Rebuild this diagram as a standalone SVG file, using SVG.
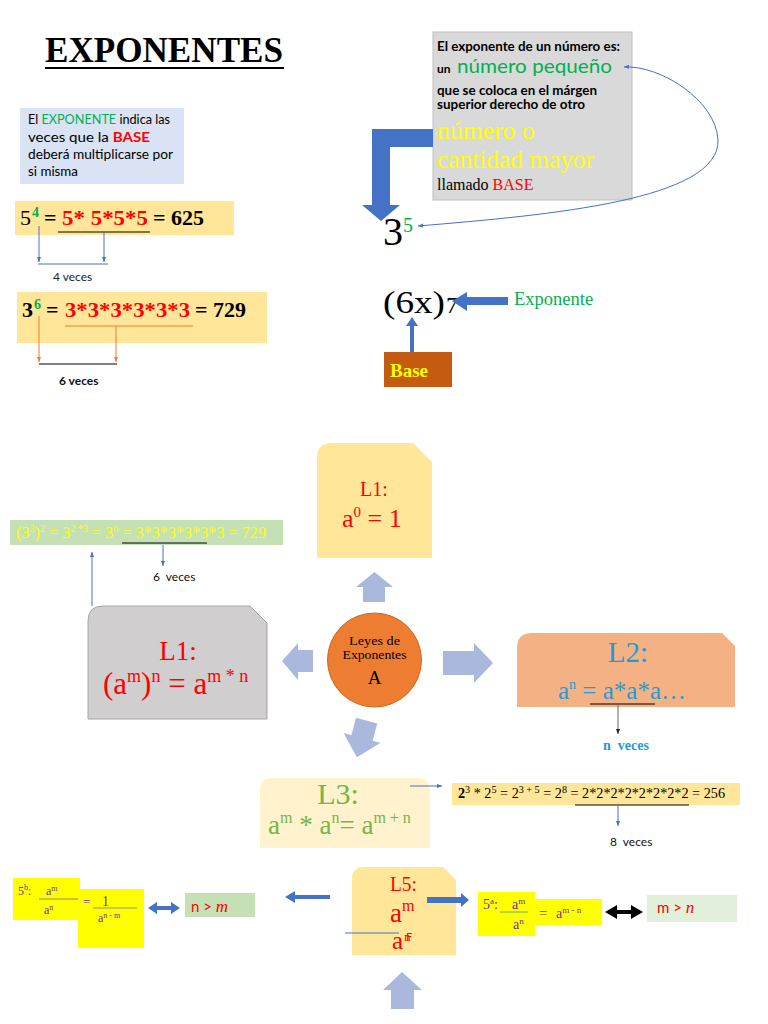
<svg xmlns="http://www.w3.org/2000/svg" width="768" height="1024" viewBox="0 0 768 1024">
<defs>
<style>
.se{font-family:"Liberation Serif","Times New Roman",serif}
.sa{font-family:Lato,"Liberation Sans",Arial,sans-serif}
.b{font-weight:bold}
.red{fill:#ff0000}
.grn{fill:#00b050}
.yel{fill:#ffff00}
.pur{fill:#7030a0}
.blu{fill:#1f9bd7}
.lg{fill:#74b54c}
.ba{fill:#aab8dd}
.tb{fill:none;stroke:#4472c4;stroke-width:1}
.to{fill:none;stroke:#ed7d31;stroke-width:1}
.tk{fill:none;stroke:#000;stroke-width:1}
.solid{fill:#4472c4}
</style>
<marker id="mb" viewBox="0 0 10 10" refX="10" refY="5" markerWidth="5" markerHeight="5" markerUnits="userSpaceOnUse" orient="auto-start-reverse"><path d="M0,1 L10,5 L0,9 z" fill="#4472c4"/></marker>
<marker id="mo" viewBox="0 0 10 10" refX="10" refY="5" markerWidth="5" markerHeight="5" markerUnits="userSpaceOnUse" orient="auto-start-reverse"><path d="M0,1 L10,5 L0,9 z" fill="#ed7d31"/></marker>
<marker id="mk" viewBox="0 0 10 10" refX="10" refY="5" markerWidth="5" markerHeight="5" markerUnits="userSpaceOnUse" orient="auto-start-reverse"><path d="M0,1 L10,5 L0,9 z" fill="#222"/></marker>
</defs>
<rect width="768" height="1024" fill="#fff"/>

<g id="title">
<text class="se b" font-size="36" x="45" y="62" textLength="238" lengthAdjust="spacingAndGlyphs">EXPONENTES</text>
<rect x="45" y="67" width="239" height="2" fill="#000"/>
</g>

<g id="def-box">
<rect x="20" y="108" width="164" height="76" fill="#dae3f3"/>
<text class="sa" font-size="12.5" x="28" y="124" textLength="142" lengthAdjust="spacingAndGlyphs">El <tspan class="grn">EXPONENTE</tspan> indica las</text>
<text class="sa" font-size="12.5" x="28" y="142" textLength="122" lengthAdjust="spacingAndGlyphs">veces que la <tspan class="red b">BASE</tspan></text>
<text class="sa" font-size="12.5" x="28" y="159" textLength="145" lengthAdjust="spacingAndGlyphs">deberá multiplicarse por</text>
<text class="sa" font-size="12.5" x="28" y="176" textLength="50" lengthAdjust="spacingAndGlyphs">si misma</text>
</g>

<g id="ex-5-4">
<rect x="15" y="201" width="219" height="34" fill="#ffe699"/>
<text class="se" font-size="22" x="20" y="225">5</text>
<text class="se b grn" font-size="14" x="32" y="217">4</text>
<text class="se b" font-size="22" x="44" y="225">=</text>
<text class="se b red" font-size="22" x="62" y="225" textLength="86" lengthAdjust="spacingAndGlyphs">5* 5*5*5</text>
<text class="se b" font-size="22" x="153" y="225">= 625</text>
<text class="sa" font-size="12" x="53" y="281" fill="#222">4 veces</text>
</g>

<g id="ex-3-6">
<rect x="17" y="292" width="250" height="51" fill="#ffe699"/>
<text class="se b" font-size="22" x="22" y="317">3</text>
<text class="se b grn" font-size="14" x="34" y="309">6</text>
<text class="se b" font-size="22" x="46" y="317">=</text>
<text class="se b red" font-size="22" x="65" y="317" textLength="125" lengthAdjust="spacingAndGlyphs">3*3*3*3*3*3</text>
<text class="se b" font-size="22" x="195" y="317">= 729</text>
<text class="sa b" font-size="12" x="59" y="385" fill="#111">6 veces</text>
</g>

<g id="def-exponente">
<rect x="433" y="32" width="199" height="168" fill="#d9d9d9" stroke="#bfbfbf" stroke-width="1"/>
<text class="sa b" font-size="12.5" x="437" y="51" textLength="183" lengthAdjust="spacingAndGlyphs">El exponente de un número es:</text>
<text class="sa b" font-size="12" x="437" y="73">un</text>
<text class="sa grn" font-size="20" x="457" y="73" textLength="155" lengthAdjust="spacingAndGlyphs">número pequeño</text>
<text class="sa b" font-size="12.5" x="437" y="95" textLength="160" lengthAdjust="spacingAndGlyphs">que se coloca en el márgen</text>
<text class="sa b" font-size="12.5" x="437" y="109" textLength="148" lengthAdjust="spacingAndGlyphs">superior derecho de otro</text>
<text class="se yel" font-size="26" x="437" y="139" textLength="98" lengthAdjust="spacingAndGlyphs">número o</text>
<text class="se yel" font-size="26" x="437" y="168" textLength="157" lengthAdjust="spacingAndGlyphs">cantidad mayor</text>
<text class="se" font-size="16" x="437" y="190">llamado <tspan class="red">BASE</tspan></text>
</g>

<g id="tres-5">
<text class="se" font-size="40" x="383" y="245">3</text>
<text class="se grn" font-size="20" x="403" y="232">5</text>
</g>

<g id="seis-x-7">
<text class="se" font-size="32" x="383" y="313" textLength="62" lengthAdjust="spacingAndGlyphs">(6x)</text>
<text class="se" font-size="24" x="446" y="313">7</text>
</g>

<g id="exponente-label">
<text class="se grn" font-size="18.5" x="514" y="305">Exponente</text>
</g>

<g id="base-box">
<rect x="384" y="352" width="68" height="35" fill="#c55a11"/>
<text class="se b yel" font-size="19" x="390" y="377">Base</text>
</g>

<g id="L1-top">
<path d="M317,458 Q317,443 332,443 L413,443 L432,462 L432,558 L317,558 Z" fill="#ffe699"/>
<text class="se red" font-size="20" x="374" y="496" text-anchor="middle">L1:</text>
<text class="se red" font-size="26" x="342" y="527">a<tspan font-size="15" dy="-10">0</tspan><tspan dy="10"> = 1</tspan></text>
</g>

<g id="ex-power-power">
<rect x="10" y="520" width="273" height="25" fill="#c5e0b4"/>
<text class="se yel" font-size="16" x="16" y="538" textLength="250" lengthAdjust="spacingAndGlyphs">(3<tspan font-size="10" dy="-6">3</tspan><tspan dy="6">)</tspan><tspan font-size="10" dy="-6">2</tspan><tspan dy="6"> = 3</tspan><tspan font-size="10" dy="-6">2 *3</tspan><tspan dy="6"> = 3</tspan><tspan font-size="10" dy="-6">6</tspan><tspan dy="6"> = 3*3*3*3*3*3 = 729</tspan></text>
<text class="sa" font-size="12" x="153" y="581" fill="#111">6&#160; veces</text>
</g>

<g id="L1-left">
<path d="M88,621 Q88,606 103,606 L250,606 L267,623 L267,719 L88,719 Z" fill="#d0cece" stroke="#a6a6a6" stroke-width="1"/>
<text class="se red" font-size="27" x="178" y="660" text-anchor="middle">L1:</text>
<text class="se red" font-size="31" x="103" y="694">(a<tspan font-size="18" dy="-12">m</tspan><tspan dy="12">)</tspan><tspan font-size="18" dy="-12">n</tspan><tspan dy="12"> = a</tspan><tspan font-size="18" dy="-12">m * n</tspan></text>
</g>

<g id="center">
<circle cx="374.5" cy="660" r="47" fill="#ed7d31" stroke="#d0691f" stroke-width="1"/>
<text class="se" font-size="13" x="374.5" y="645" text-anchor="middle" textLength="51" lengthAdjust="spacingAndGlyphs">Leyes de</text>
<text class="se" font-size="13" x="374.5" y="659" text-anchor="middle" textLength="64" lengthAdjust="spacingAndGlyphs">Exponentes</text>
<text class="se" font-size="19" x="374.5" y="684" text-anchor="middle">A</text>
</g>

<g id="L2">
<path d="M517,648 Q517,633 532,633 L722,633 L735,646 L735,707 L517,707 Z" fill="#f4b183"/>
<text class="se blu" font-size="29" x="628" y="662" text-anchor="middle">L2:</text>
<text class="se blu" font-size="25" x="558" y="699">a<tspan font-size="14" dy="-10">n</tspan><tspan dy="10"> = a*a*a…</tspan></text>
<text class="se b blu" font-size="14" x="603" y="750">n&#160; veces</text>
</g>

<g id="L3">
<path d="M260,790 Q260,778 272,778 L418,778 Q430,778 430,790 L430,848 L260,848 Z" fill="#fff2cc"/>
<text class="se lg" font-size="30" x="338" y="804" text-anchor="middle">L3:</text>
<text class="se lg" font-size="27" x="268" y="834">a<tspan font-size="16" dy="-11">m</tspan><tspan dy="11"> * a</tspan><tspan font-size="16" dy="-11">n</tspan><tspan dy="11">= a</tspan><tspan font-size="16" dy="-11">m + n</tspan></text>
</g>

<g id="ex-product">
<rect x="452" y="783" width="288" height="22" fill="#ffe699"/>
<text class="se" font-size="14" x="458" y="798" textLength="267" lengthAdjust="spacingAndGlyphs"><tspan class="b">2</tspan><tspan font-size="10" dy="-5">3</tspan><tspan dy="5"> * 2</tspan><tspan font-size="10" dy="-5">5</tspan><tspan dy="5"> = 2</tspan><tspan font-size="10" dy="-5">3 + 5</tspan><tspan dy="5"> = 2</tspan><tspan font-size="10" dy="-5">8</tspan><tspan dy="5"> = 2*2*2*2*2*2*2*2 = 256</tspan></text>
<text class="sa" font-size="12" x="610" y="846" fill="#111">8&#160; veces</text>
</g>

<g id="L5">
<path d="M352,879 Q352,867 364,867 L443,867 L456,880 L456,955 L352,955 Z" fill="#ffe699"/>
<text class="se red" font-size="21" x="390" y="891" textLength="27" lengthAdjust="spacingAndGlyphs">L5:</text>
<text class="se red" font-size="27" x="390" y="922">a<tspan font-size="16" dy="-11">m</tspan></text>
<text class="se red" font-size="25" x="392" y="949">a</text>
<text class="se red" font-size="13" x="404" y="941">n</text>
<text class="sa red" font-size="11" x="406" y="941">F</text>
</g>

<g id="L5a">
<rect x="478" y="892" width="57" height="44" fill="#ffff00"/>
<rect x="535" y="899" width="67" height="26" fill="#ffff00"/>
<text class="se pur" font-size="14" x="483" y="909">5<tspan font-size="9" dy="-5">a</tspan><tspan dy="5">:</tspan></text>
<text class="se pur" font-size="14" x="512" y="909">a<tspan font-size="9" dy="-5">m</tspan></text>
<text class="se pur" font-size="14" x="513" y="929">a<tspan font-size="9" dy="-5">n</tspan></text>
<text class="se pur" font-size="15" x="539" y="918">=</text>
<text class="se pur" font-size="14" x="556" y="918">a<tspan font-size="9" dy="-5">m - n</tspan></text>
<line x1="500" y1="912" x2="528" y2="912" stroke="#70ad47" stroke-width="1"/>
</g>

<g id="m-gt-n">
<rect x="647" y="895" width="90" height="27" fill="#e2efda"/>
<text class="sa red" font-size="15" x="657" y="913">m &gt; <tspan class="se" font-style="italic" font-size="17">n</tspan></text>
</g>

<g id="L5b">
<rect x="13" y="878" width="67" height="42" fill="#ffff00"/>
<rect x="78" y="889" width="66" height="59" fill="#ffff00"/>
<text class="se pur" font-size="12" x="18" y="895">5<tspan font-size="8" dy="-5">b</tspan><tspan dy="5">:</tspan></text>
<text class="se pur" font-size="12" x="46" y="895">a<tspan font-size="8" dy="-4">m</tspan></text>
<line x1="39" y1="899" x2="78" y2="899" stroke="#8a8a70" stroke-width="1"/>
<text class="se pur" font-size="12" x="44" y="914">a<tspan font-size="8" dy="-4">n</tspan></text>
<text class="se pur" font-size="13" x="83" y="906">=</text>
<text class="se pur" font-size="14" x="102" y="906">1</text>
<line x1="93" y1="908" x2="137" y2="908" stroke="#8a9a70" stroke-width="1.2"/>
<text class="se pur" font-size="12" x="98" y="922">a<tspan font-size="8" dy="-4">n - m</tspan></text>
</g>

<g id="n-gt-m">
<rect x="185" y="893" width="70" height="24" fill="#c5e0b4"/>
<text class="sa red" font-size="15" x="191" y="912">n &gt; <tspan class="se" font-style="italic" font-size="17">m</tspan></text>
</g>

<g id="connectors">
<polygon class="solid" points="433,129 372,129 372,205 362,205 381,221 400,205 390,205 390,147 433,147"/>
<path class="tb" d="M418,226 C550,215 720,200 718,140 C716,100 660,65 624,67" marker-start="url(#mb)" marker-end="url(#mb)"/>
<line class="tb" x1="39" y1="226" x2="39" y2="262" marker-end="url(#mb)"/>
<line class="tk" x1="58" y1="232" x2="150" y2="232"/>
<line class="tb" x1="104" y1="232" x2="104" y2="262" marker-end="url(#mb)"/>
<line class="tb" x1="38" y1="264" x2="108" y2="264"/>
<line class="to" x1="65" y1="326" x2="193" y2="326"/>
<line class="to" x1="39" y1="316" x2="39" y2="362" marker-end="url(#mo)"/>
<line class="to" x1="116" y1="326" x2="116" y2="362" marker-end="url(#mo)"/>
<line class="tk" x1="39" y1="364" x2="117" y2="364"/>
<polygon class="solid" points="452,301 467,292 467,297 508,297 508,305 467,305 467,311"/>
<polygon class="solid" points="412,317 418,326 414,326 414,352 410,352 410,326 406,326"/>
<line class="tk" x1="122" y1="543" x2="207" y2="543"/>
<line class="tb" x1="163" y1="545" x2="163" y2="566" marker-end="url(#mb)"/>
<line class="tb" x1="92" y1="606" x2="92" y2="552" marker-end="url(#mb)"/>
<polygon class="ba" points="374.5,572 393,587 385,587 385,602 363,602 363,587 356,587"/>
<polygon class="ba" points="282,661 298,643 298,650 313,650 313,672 298,672 298,680"/>
<polygon class="ba" points="443,651 474,651 474,643 493,663 474,683 474,675 443,675"/>
<polygon class="ba" transform="translate(362,738) rotate(15)" points="-11,-18 11,-18 11,0 19,0 0,20 -19,0 -11,0"/>
<line class="tk" x1="590" y1="704" x2="655" y2="704"/>
<line x1="618" y1="704" x2="618" y2="734" stroke="#666" stroke-width="1" marker-end="url(#mk)"/>
<line class="tb" x1="410" y1="786" x2="442" y2="786" marker-end="url(#mb)"/>
<line class="tk" x1="575" y1="805" x2="689" y2="805"/>
<line class="tb" x1="618" y1="805" x2="618" y2="826" marker-end="url(#mb)"/>
<polygon class="solid" points="285,897 295,891 295,895 330,895 330,899 295,899 295,903"/>
<polygon class="solid" points="427,897 461,897 461,893 469,900 461,907 461,903 427,903"/>
<line class="tb" x1="345" y1="933" x2="399" y2="933"/>
<polygon class="solid" points="148,908 157,902 157,906 171,906 171,902 180,908 171,914 171,910 157,910 157,914"/>
<polygon fill="#000" points="605,912 617,905 617,910 631,910 631,905 643,912 631,919 631,914 617,914 617,919"/>
<polygon class="ba" points="402,972 422,990 414,990 414,1009 391,1009 391,990 383,990"/>
</g>
</svg>
